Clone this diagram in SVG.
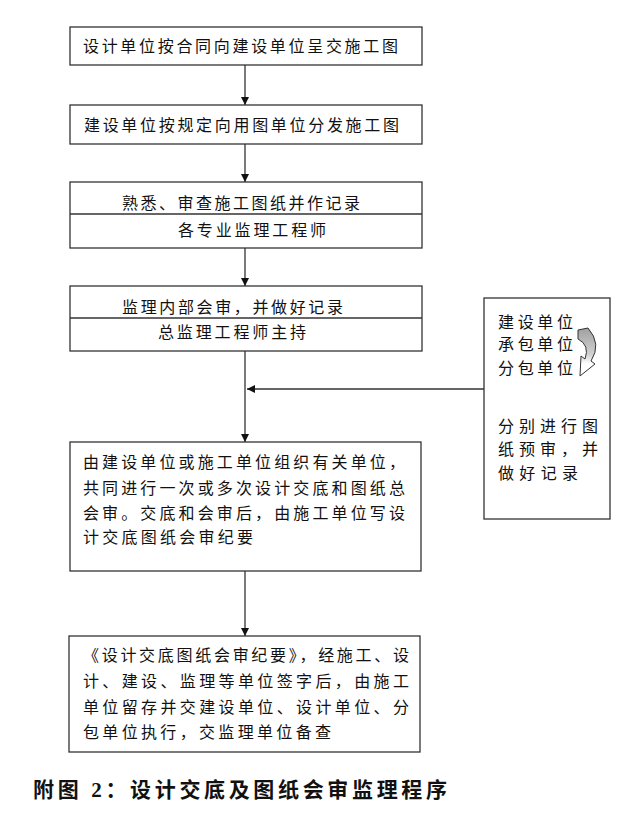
<svg xmlns="http://www.w3.org/2000/svg" width="623" height="820" viewBox="0 0 623 820">
<style>
.box{fill:#fff;stroke:#333;stroke-width:1.3}
.div{stroke:#333;stroke-width:1.3}
.t{font-family:"Noto Sans CJK SC","Noto Sans CJK JP",sans-serif;font-size:16px;fill:#111}
.cap{font-family:"Liberation Serif","Noto Sans CJK SC",serif;font-size:21px;font-weight:bold;fill:#111}
.conn{stroke:#333;stroke-width:1.3;fill:none;marker-end:url(#ah)}
</style>
<defs>
<marker id="ah" markerUnits="userSpaceOnUse" markerWidth="9" markerHeight="9" refX="8" refY="4" orient="auto">
<path d="M0,0 L8,4 L0,8 Z" fill="#111"/>
</marker>
<linearGradient id="g" x1="0" y1="0" x2="0" y2="1">
<stop offset="0" stop-color="#a0a0a0"/>
<stop offset="0.55" stop-color="#d0d0d0"/>
<stop offset="0.75" stop-color="#fff"/>
<stop offset="1" stop-color="#fff"/>
</linearGradient>
</defs>
<g id="connectors">
<line class="conn" x1="245" y1="65" x2="245" y2="105"/>
<line class="conn" x1="245" y1="144" x2="245" y2="182"/>
<line class="conn" x1="245" y1="248" x2="245" y2="286"/>
<line class="conn" x1="245" y1="351" x2="245" y2="442"/>
<line class="conn" x1="484" y1="389" x2="247" y2="389"/>
<line class="conn" x1="245" y1="571" x2="245" y2="636"/>
</g>
<g id="n1">
<rect class="box" x="70" y="27" width="352" height="38"/>
<text class="t" x="83" y="52" textLength="315" lengthAdjust="spacing">设计单位按合同向建设单位呈交施工图</text>
</g>
<g id="n2">
<rect class="box" x="70" y="105" width="352" height="39"/>
<text class="t" x="84" y="131" textLength="315" lengthAdjust="spacing">建设单位按规定向用图单位分发施工图</text>
</g>
<g id="n3">
<rect class="box" x="70" y="182" width="352" height="66"/>
<line class="div" x1="70" y1="214" x2="422" y2="214"/>
<text class="t" x="122" y="209" textLength="238" lengthAdjust="spacing">熟悉、审查施工图纸并作记录</text>
<text class="t" x="178" y="236" textLength="148" lengthAdjust="spacing">各专业监理工程师</text>
</g>
<g id="n4">
<rect class="box" x="70" y="286" width="352" height="65"/>
<line class="div" x1="70" y1="318" x2="422" y2="318"/>
<text class="t" x="122" y="313" textLength="221" lengthAdjust="spacing">监理内部会审，并做好记录</text>
<text class="t" x="158" y="338" textLength="148" lengthAdjust="spacing">总监理工程师主持</text>
</g>
<g id="n5">
<rect class="box" x="70" y="442" width="351" height="129"/>
<text class="t" x="83" y="468" textLength="322" lengthAdjust="spacing">由建设单位或施工单位组织有关单位，</text>
<text class="t" x="83" y="494" textLength="322" lengthAdjust="spacing">共同进行一次或多次设计交底和图纸总</text>
<text class="t" x="83" y="519" textLength="322" lengthAdjust="spacing">会审。交底和会审后，由施工单位写设</text>
<text class="t" x="83" y="543" textLength="170" lengthAdjust="spacing">计交底图纸会审纪要</text>
</g>
<g id="n6">
<rect class="box" x="69" y="636" width="351" height="116"/>
<text class="t" x="83" y="661" textLength="326" lengthAdjust="spacing">《设计交底图纸会审纪要》，经施工、设</text>
<text class="t" x="83" y="687" textLength="326" lengthAdjust="spacing">计、建设、监理等单位签字后，由施工</text>
<text class="t" x="83" y="713" textLength="326" lengthAdjust="spacing">单位留存并交建设单位、设计单位、分</text>
<text class="t" x="83" y="738" textLength="248" lengthAdjust="spacing">包单位执行，交监理单位备查</text>
</g>
<g id="n7">
<rect class="box" x="484" y="298" width="126" height="221"/>
<text class="t" x="498" y="327.5" textLength="75" lengthAdjust="spacing">建设单位</text>
<text class="t" x="498" y="350" textLength="75" lengthAdjust="spacing">承包单位</text>
<text class="t" x="498" y="373.5" textLength="75" lengthAdjust="spacing">分包单位</text>
<path d="M578,330 L588,328 Q602,344 591,361 L595,364 L580,376 L581,356 L585,359 Q590,345 578,339 Z" fill="url(#g)" stroke="#333" stroke-width="1"/>
<text class="t" x="498" y="432" textLength="100" lengthAdjust="spacing">分别进行图</text>
<text class="t" x="498" y="455" textLength="100" lengthAdjust="spacing">纸预审，并</text>
<text class="t" x="498" y="479" textLength="80" lengthAdjust="spacing">做好记录</text>
</g>
<text class="cap" x="33" y="797" textLength="414" lengthAdjust="spacing">附图 2：设计交底及图纸会审监理程序</text>
</svg>
